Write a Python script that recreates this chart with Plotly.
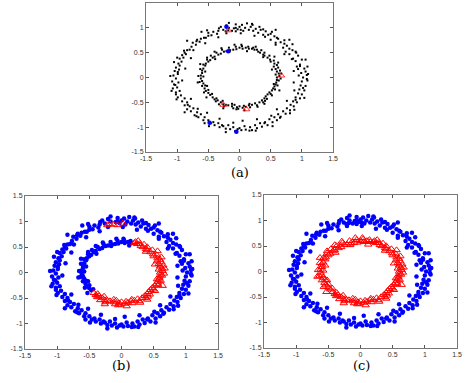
import plotly.graph_objects as go

# ---- data ----
outer_pts = [
    (1.02, 0.00), (0.95, 0.04), (1.08, 0.05), (0.99, 0.09), (1.06, 0.12),
    (0.94, 0.17), (1.04, 0.18), (1.09, 0.22), (0.97, 0.26), (0.92, 0.22),
    (1.00, 0.36), (0.90, 0.33), (0.94, 0.44), (0.86, 0.38), (0.90, 0.52),
    (0.80, 0.47), (0.85, 0.55), (0.80, 0.58), (0.74, 0.52), (0.76, 0.64),
    (0.70, 0.60), (0.72, 0.68), (0.66, 0.71), (0.72, 0.75), (0.62, 0.78),
    (0.58, 0.70), (0.56, 0.83), (0.50, 0.76), (0.50, 0.88), (0.46, 0.86),
    (0.52, 0.92), (0.42, 0.93), (0.38, 0.86), (0.34, 0.96), (0.30, 0.90),
    (0.32, 1.02), (0.26, 0.98), (0.22, 0.94), (0.18, 1.02), (0.15, 0.96),
    (0.20, 1.08), (0.09, 1.00), (0.06, 0.94), (0.04, 1.06),
    (0.00, 1.02), (-0.03, 0.97), (-0.06, 1.07), (-0.09, 0.99), (-0.17, 1.00),
    (-0.21, 1.05), (-0.26, 0.96), (-0.30, 1.02), (-0.34, 0.94), (-0.36, 0.88),
    (-0.42, 0.92), (-0.45, 0.85), (-0.50, 0.90), (-0.50, 0.84), (-0.54, 0.80),
    (-0.57, 0.80), (-0.62, 0.78), (-0.64, 0.72), (-0.68, 0.76), (-0.70, 0.66),
    (-0.75, 0.70), (-0.77, 0.62), (-0.80, 0.56), (-0.84, 0.55), (-0.88, 0.50),
    (-0.86, 0.47), (-0.92, 0.45), (-0.90, 0.40), (-0.96, 0.38), (-0.93, 0.32),
    (-0.98, 0.28), (-0.96, 0.24), (-1.02, 0.20), (-0.97, 0.16), (-1.04, 0.13),
    (-0.99, 0.07), (-1.06, 0.04),
    (-1.02, -0.02), (-1.08, -0.08), (-0.98, -0.10), (-1.05, -0.14), (-1.00, -0.20),
    (-1.07, -0.22), (-0.96, -0.27), (-1.02, -0.30), (-0.94, -0.36), (-0.99, -0.40),
    (-0.88, -0.42), (-0.92, -0.48), (-0.84, -0.50), (-0.88, -0.56), (-0.80, -0.58),
    (-0.84, -0.64), (-0.74, -0.62), (-0.78, -0.68), (-0.68, -0.70), (-0.72, -0.76),
    (-0.62, -0.74), (-0.66, -0.80), (-0.56, -0.80), (-0.58, -0.86), (-0.50, -0.86),
    (-0.46, -0.92), (-0.42, -0.90), (-0.40, -0.96), (-0.34, -0.92), (-0.32, -1.00),
    (-0.26, -0.98), (-0.22, -1.03), (-0.18, -0.96), (-0.15, -1.04), (-0.10, -1.00),
    (-0.07, -1.08),
    (0.00, -1.02), (0.03, -1.06), (0.08, -0.98), (0.10, -1.05), (0.17, -1.00),
    (0.20, -1.06), (0.25, -0.96), (0.28, -1.02), (0.33, -0.92), (0.36, -0.99),
    (0.41, -0.90), (0.45, -0.96), (0.48, -0.84), (0.53, -0.90), (0.56, -0.80),
    (0.60, -0.86), (0.62, -0.74), (0.66, -0.79), (0.70, -0.68), (0.74, -0.73),
    (0.76, -0.62), (0.81, -0.66), (0.82, -0.55), (0.87, -0.58), (0.86, -0.48),
    (0.92, -0.50), (0.90, -0.40), (0.97, -0.42), (0.94, -0.32), (1.00, -0.34),
    (0.96, -0.24), (1.04, -0.26), (0.98, -0.16), (1.06, -0.17), (1.00, -0.08),
    (1.09, -0.06),
    # scattered points across the band
    (1.10, 0.07), (0.87, 0.13), (0.97, 0.23), (1.06, 0.36), (0.84, 0.37),
    (0.91, 0.50), (0.72, 0.47), (0.85, 0.67), (0.80, 0.76), (0.58, 0.66),
    (0.60, 0.80), (0.58, 0.96), (0.41, 0.82), (0.38, 0.97), (0.24, 0.84),
    (0.21, 1.06), (0.12, 1.09), (0.02, 0.89), (-0.06, 1.00), (-0.17, 1.10),
    (-0.21, 0.89), (-0.33, 0.99), (-0.34, 0.81), (-0.52, 0.95), (-0.61, 0.92),
    (-0.55, 0.69), (-0.69, 0.73), (-0.84, 0.74), (-0.74, 0.55), (-0.89, 0.54),
    (-0.78, 0.39), (-1.00, 0.40), (-1.05, 0.31), (-0.87, 0.18), (-0.99, 0.11),
    (-1.11, 0.03), (-0.92, -0.06), (-1.03, -0.15), (-1.09, -0.27), (-1.02, -0.34),
    (-1.01, -0.44), (-0.78, -0.43), (-0.83, -0.55), (-0.88, -0.70), (-0.67, -0.63),
    (-0.69, -0.78), (-0.52, -0.71), (-0.56, -0.92), (-0.49, -0.98), (-0.32, -0.83),
    (-0.28, -0.96), (-0.22, -1.10), (-0.10, -0.91), (-0.03, -1.04), (0.05, -0.87),
    (0.16, -1.07), (0.26, -1.07), (0.28, -0.84), (0.40, -0.92), (0.53, -0.98),
    (0.51, -0.77), (0.65, -0.81), (0.60, -0.64), (0.81, -0.72), (0.88, -0.65),
    (0.76, -0.47), (0.90, -0.45), (1.04, -0.41), (0.88, -0.26), (1.02, -0.21),
    (0.87, -0.10), (1.08, -0.03),
]
# outer-ring points that are labelled red in (b)
outer_top_pts = [(-0.22, 0.93), (-0.18, 0.95), (-0.12, 0.94), (-0.06, 0.93), (0.02, 0.96)]

# inner ring, arc that stays blue in (b)
inner_left_pts = [
    (0.15, 0.58), (0.14, 0.62), (0.10, 0.60), (0.05, 0.58), (0.04, 0.63),
    (0.00, 0.60), (-0.05, 0.57), (-0.06, 0.62), (-0.10, 0.56), (-0.15, 0.55),
    (-0.17, 0.60), (-0.21, 0.53), (-0.25, 0.52), (-0.28, 0.56), (-0.30, 0.48),
    (-0.34, 0.46), (-0.37, 0.50), (-0.40, 0.42), (-0.43, 0.40), (-0.46, 0.44),
    (-0.47, 0.35), (-0.50, 0.32), (-0.52, 0.36), (-0.54, 0.28), (-0.55, 0.24),
    (-0.58, 0.26), (-0.58, 0.18), (-0.60, 0.14), (-0.63, 0.17), (-0.60, 0.09),
    (-0.62, 0.04), (-0.58, 0.02), (-0.62, -0.02), (-0.60, -0.07), (-0.64, -0.09),
    (-0.58, -0.12), (-0.60, -0.17), (-0.55, -0.16), (-0.56, -0.22), (-0.54, -0.27),
    (-0.50, -0.25), (-0.50, -0.31), (-0.47, -0.35), (-0.44, -0.33),
    (0.12, 0.53), (0.03, 0.66), (-0.08, 0.66), (-0.16, 0.52), (-0.29, 0.59),
    (-0.40, 0.52), (-0.39, 0.37), (-0.52, 0.40), (-0.63, 0.27), (-0.55, 0.12),
    (-0.66, 0.03), (-0.67, -0.10), (-0.52, -0.17), (-0.57, -0.30), (-0.53, -0.40),
]
# inner ring, arc that is red in (b)
inner_right_pts = [
    (-0.43, -0.40), (-0.40, -0.44), (-0.37, -0.42), (-0.35, -0.46), (-0.30, -0.50),
    (-0.27, -0.47), (-0.26, -0.54), (-0.22, -0.55), (-0.25, -0.58), (-0.18, -0.56),
    (-0.12, -0.58), (-0.10, -0.62), (-0.08, -0.55), (-0.04, -0.60), (-0.05, -0.64),
    (0.00, -0.58), (0.05, -0.61), (0.07, -0.57), (0.10, -0.59), (0.15, -0.56),
    (0.17, -0.60), (0.20, -0.55), (0.25, -0.52), (0.28, -0.56), (0.32, -0.50),
    (0.36, -0.46), (0.38, -0.50), (0.40, -0.42), (0.42, -0.38), (0.44, -0.43),
    (0.45, -0.34), (0.48, -0.30), (0.50, -0.33), (0.52, -0.26), (0.54, -0.22),
    (0.57, -0.24), (0.56, -0.18), (0.58, -0.14), (0.61, -0.16), (0.59, -0.10),
    (0.60, -0.05), (0.63, -0.06), (0.60, 0.00), (0.64, 0.03), (0.58, 0.06),
    (0.63, 0.08), (0.60, 0.12), (0.65, 0.14), (0.58, 0.17), (0.62, 0.20),
    (0.55, 0.22), (0.60, 0.25), (0.56, 0.28), (0.50, 0.32), (0.55, 0.34),
    (0.49, 0.36), (0.45, 0.40), (0.48, 0.44), (0.40, 0.44), (0.38, 0.46),
    (0.40, 0.50), (0.33, 0.50), (0.30, 0.52), (0.28, 0.56), (0.24, 0.56), (0.22, 0.60),
    (0.20, 0.58),
    (-0.38, -0.48), (-0.33, -0.54), (-0.26, -0.62), (-0.12, -0.53), (-0.02, -0.63),
    (0.08, -0.66), (0.16, -0.53), (0.29, -0.59), (0.40, -0.53), (0.41, -0.47),
    (0.52, -0.36), (0.64, -0.26), (0.55, -0.13), (0.66, -0.02), (0.67, 0.08),
    (0.52, 0.16), (0.62, 0.30), (0.56, 0.42), (0.38, 0.41), (0.35, 0.55), (0.26, 0.62),
]
# labelled points in (a)
seed_blue_pts = [(-0.21, 1.02), (-0.18, 0.53), (-0.48, -0.91), (-0.05, -1.09)]
seed_red_pts = [(-0.18, 0.95), (0.67, 0.04), (-0.26, -0.55), (0.11, -0.64)]

tick_vals = [-1.5, -1, -0.5, 0, 0.5, 1, 1.5]
tick_text = ["-1.5", "-1", "-0.5", "0", "0.5", "1", "1.5"]
panel_labels = ["(a)", "(b)", "(c)"]


def xs(p):
    return [q[0] for q in p]


def ys(p):
    return [q[1] for q in p]


BLUE = "#0000ff"
RED = "#ff0000"

fig = go.Figure()

# (a)
all_pts = outer_pts + outer_top_pts + inner_left_pts + inner_right_pts
fig.add_trace(go.Scatter(x=xs(all_pts), y=ys(all_pts), mode="markers",
                         marker=dict(size=2, color="black", symbol="square"),
                         xaxis="x", yaxis="y", showlegend=False))
fig.add_trace(go.Scatter(x=xs(seed_blue_pts), y=ys(seed_blue_pts), mode="markers",
                         marker=dict(size=4.5, color=BLUE),
                         xaxis="x", yaxis="y", showlegend=False))
fig.add_trace(go.Scatter(x=xs(seed_red_pts), y=ys(seed_red_pts), mode="markers",
                         marker=dict(size=6, color=RED, symbol="triangle-up-open",
                                     line=dict(width=0.8)),
                         xaxis="x", yaxis="y", showlegend=False))

# (b)
blue_b = outer_pts + inner_left_pts
red_b = outer_top_pts + inner_right_pts
fig.add_trace(go.Scatter(x=xs(blue_b), y=ys(blue_b), mode="markers",
                         marker=dict(size=4.5, color=BLUE),
                         xaxis="x2", yaxis="y2", showlegend=False))
fig.add_trace(go.Scatter(x=xs(red_b), y=ys(red_b), mode="markers",
                         marker=dict(size=6.5, color=RED, symbol="triangle-up-open",
                                     line=dict(width=1)),
                         xaxis="x2", yaxis="y2", showlegend=False))

# (c)
blue_c = outer_pts + outer_top_pts
red_c = inner_left_pts + inner_right_pts
fig.add_trace(go.Scatter(x=xs(blue_c), y=ys(blue_c), mode="markers",
                         marker=dict(size=4.5, color=BLUE),
                         xaxis="x3", yaxis="y3", showlegend=False))
fig.add_trace(go.Scatter(x=xs(red_c), y=ys(red_c), mode="markers",
                         marker=dict(size=6.5, color=RED, symbol="triangle-up-open",
                                     line=dict(width=1)),
                         xaxis="x3", yaxis="y3", showlegend=False))

W, H = 474, 383


def ax(domain, anchor):
    return dict(domain=domain, anchor=anchor, range=[-1.5, 1.5],
                tickvals=tick_vals, ticktext=tick_text,
                ticks="inside", ticklen=3, tickcolor="#555",
                showline=True, linecolor="#777", linewidth=1, mirror="ticks",
                showgrid=False, zeroline=False, automargin=False, fixedrange=True,
                tickfont=dict(family="Liberation Sans, Arial", size=7, color="#333"))


boxes = {
    "a": (146, 333, 3, 152),
    "b": (25, 218, 196, 349),
    "c": (264, 457, 195, 348),
}


def dom(b):
    x0, x1, y0, y1 = b
    return [x0 / W, x1 / W], [1 - y1 / H, 1 - y0 / H]


(xa, ya), (xb, yb), (xc, yc) = dom(boxes["a"]), dom(boxes["b"]), dom(boxes["c"])

fig.update_layout(
    width=W, height=H,
    margin=dict(l=0, r=0, t=0, b=0),
    paper_bgcolor="white", plot_bgcolor="white",
    hovermode=False,
    xaxis=ax(xa, "y"), yaxis=ax(ya, "x"),
    xaxis2=ax(xb, "y2"), yaxis2=ax(yb, "x2"),
    xaxis3=ax(xc, "y3"), yaxis3=ax(yc, "x3"),
)

label_pos = [(239.5, 172), (121, 365), (361, 365)]
for txt, (px, py) in zip(panel_labels, label_pos):
    fig.add_annotation(x=px / W, y=1 - py / H, xref="paper", yref="paper",
                       text=txt, showarrow=False,
                       font=dict(family="DejaVu Serif, Liberation Serif, serif",
                                 size=13, color="black"),
                       xanchor="center", yanchor="middle")

fig.write_html("out.html",
               config={"displayModeBar": False, "staticPlot": True},
               post_script="document.body.style.margin='0px';document.body.style.overflow='hidden';")
